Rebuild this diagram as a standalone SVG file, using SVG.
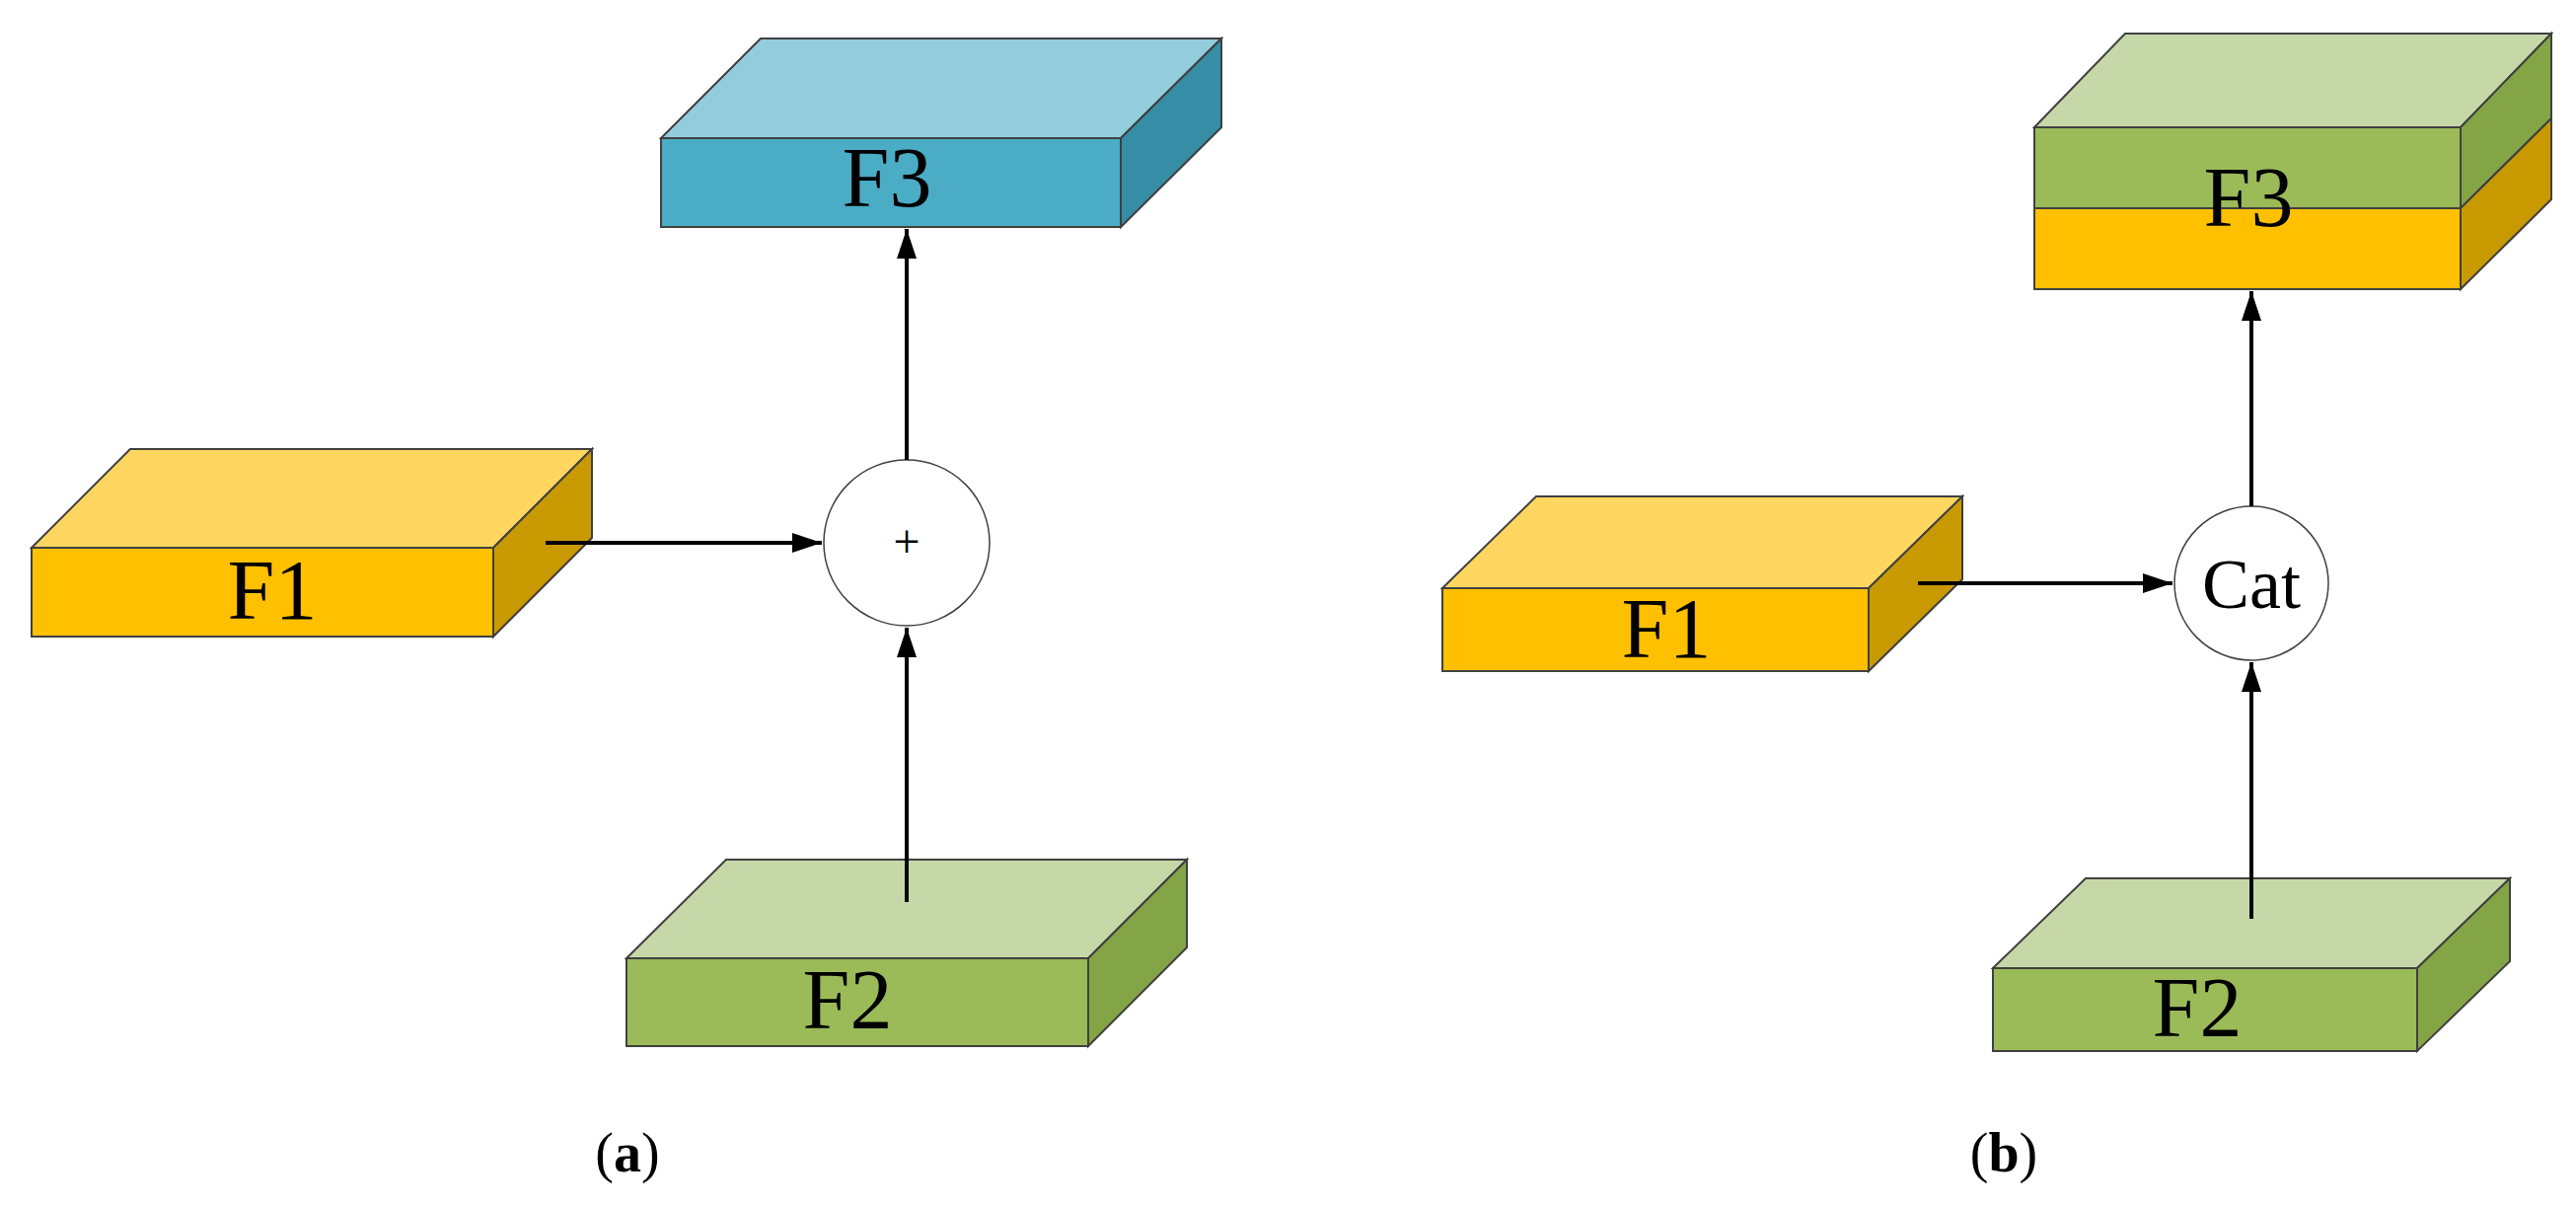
<svg xmlns="http://www.w3.org/2000/svg" width="2611" height="1222" viewBox="0 0 2611 1222">
<style>
.s{stroke:#404040;stroke-width:2}
.t{font-family:"Liberation Serif",serif;text-anchor:middle;fill:#000}
.lbl{font-size:86px}
.c{stroke:#000;stroke-width:4;fill:none}
</style>
<defs>
<marker id="ah" viewBox="0 0 10 10" refX="10" refY="5" markerWidth="5" markerHeight="5" markerUnits="userSpaceOnUse" orient="auto" style="overflow:visible">
<path d="M0,0 L10,5 L0,10 z" fill="#000" transform="scale(1)"/>
</marker>
<marker id="a2" viewBox="0 0 30 20" refX="30" refY="10" markerWidth="30" markerHeight="20" markerUnits="userSpaceOnUse" orient="auto">
<path d="M0,0 L30,10 L0,20 z" fill="#000"/>
</marker>
</defs>
<rect width="2611" height="1222" fill="#fff"/>
<g id="a-F3">
<polygon class="s" points="670,140 771,39 1238,39 1136,140" fill="#93cddd"/>
<polygon class="s" points="1136,140 1238,39 1238,129 1136,230" fill="#358ea6"/>
<rect class="s" x="670" y="140" width="466" height="90" fill="#4bacc6"/>
<text class="t lbl" x="899" y="209">F3</text>
</g>
<g id="a-F1">
<polygon class="s" points="32,555 132,455 600,455 500,555" fill="#ffd760"/>
<polygon class="s" points="500,555 600,455 600,545 500,645" fill="#c99a00"/>
<rect class="s" x="32" y="555" width="468" height="90" fill="#ffc000"/>
<text class="t lbl" x="276" y="627">F1</text>
</g>
<g id="a-F2">
<polygon class="s" points="635,971 736,871 1203,871 1103,971" fill="#c7d8a8"/>
<polygon class="s" points="1103,971 1203,871 1203,960 1103,1060" fill="#84a545"/>
<rect class="s" x="635" y="971" width="468" height="89" fill="#9bbb59"/>
<text class="t lbl" x="859" y="1042">F2</text>
</g>
<g id="a-plus">
<circle cx="919" cy="550" r="84" fill="#fff" stroke="#404040" stroke-width="1.5"/>
<text class="t" x="919" y="565" font-size="48">+</text>
</g>
<g id="b-F3">
<polygon class="s" points="2062,129 2154,34 2586,34 2494,129" fill="#c7d8a8"/>
<polygon class="s" points="2494,129 2586,34 2586,120 2494,211" fill="#84a545"/>
<polygon class="s" points="2494,211 2586,120 2586,202 2494,293" fill="#c99a00"/>
<rect class="s" x="2062" y="129" width="432" height="82" fill="#9bbb59"/>
<rect class="s" x="2062" y="211" width="432" height="82" fill="#ffc000"/>
<text class="t lbl" x="2279" y="229">F3</text>
</g>
<g id="b-F1">
<polygon class="s" points="1462,596 1557,503 1989,503 1894,596" fill="#ffd760"/>
<polygon class="s" points="1894,596 1989,503 1989,587 1894,680" fill="#c99a00"/>
<rect class="s" x="1462" y="596" width="432" height="84" fill="#ffc000"/>
<text class="t lbl" x="1689" y="666">F1</text>
</g>
<g id="b-F2">
<polygon class="s" points="2020,981 2114,890 2544,890 2450,981" fill="#c7d8a8"/>
<polygon class="s" points="2450,981 2544,890 2544,974 2450,1065" fill="#84a545"/>
<rect class="s" x="2020" y="981" width="430" height="84" fill="#9bbb59"/>
<text class="t lbl" x="2227" y="1050">F2</text>
</g>
<g id="b-cat">
<circle cx="2282" cy="591" r="78" fill="#fff" stroke="#404040" stroke-width="1.5"/>
<text class="t" x="2282" y="616" font-size="72">Cat</text>
</g>
<g id="connectors">
<line class="c" x1="553" y1="550" x2="833" y2="550" marker-end="url(#a2)"/>
<line class="c" x1="919" y1="466" x2="919" y2="232" marker-end="url(#a2)"/>
<line class="c" x1="919" y1="914" x2="919" y2="636" marker-end="url(#a2)"/>
<line class="c" x1="1944" y1="591" x2="2202" y2="591" marker-end="url(#a2)"/>
<line class="c" x1="2282" y1="513" x2="2282" y2="295" marker-end="url(#a2)"/>
<line class="c" x1="2282" y1="931" x2="2282" y2="671" marker-end="url(#a2)"/>
</g>
<g id="captions">
<text class="t" x="636" y="1187" font-size="56">(<tspan font-weight="bold">a</tspan>)</text>
<text class="t" x="2031" y="1187" font-size="56">(<tspan font-weight="bold">b</tspan>)</text>
</g>
</svg>
